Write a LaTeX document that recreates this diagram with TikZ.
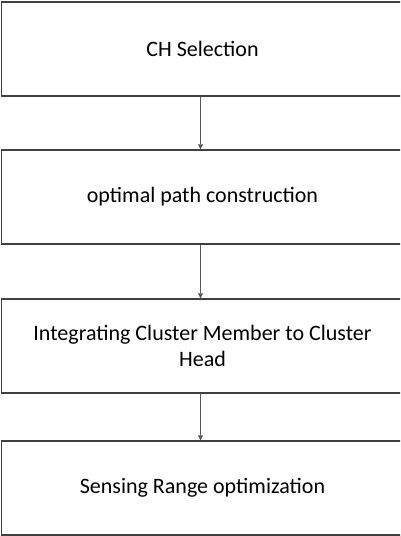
\documentclass[tikz,border=0pt]{standalone}
\usepackage{fontspec}
\setmainfont{Carlito}
\usetikzlibrary{arrows.meta}
\tikzset{stagebox/.style={draw=black!75,line width=1.4pt,rectangle,minimum width=402pt,minimum height=94pt,align=center,font=\fontsize{22}{26}\selectfont,text=black}}
\tikzset{flowarr/.style={draw=black!65,line width=0.7pt,-{Triangle[length=5pt,width=5pt]}}}

\begin{document}
\begin{tikzpicture}[x=1pt,y=1pt]
  \clip (0,0) rectangle (400,536);
  \node[stagebox] (chsel) at (202.5,487) {CH Selection};
  \node[stagebox] (path) at (202.5,339) {optimal path construction};
  \node[stagebox] (member) at (202.5,190) {Integrating Cluster Member to Cluster\\Head};
  \node[stagebox] (range) at (202.5,48) {Sensing Range optimization};
  \draw[flowarr] ([xshift=-2pt]chsel.south) -- ([xshift=-2pt]path.north);
  \draw[flowarr] ([xshift=-2pt]path.south) -- ([xshift=-2pt]member.north);
  \draw[flowarr] ([xshift=-2pt]member.south) -- ([xshift=-2pt]range.north);
\end{tikzpicture}
\end{document}
